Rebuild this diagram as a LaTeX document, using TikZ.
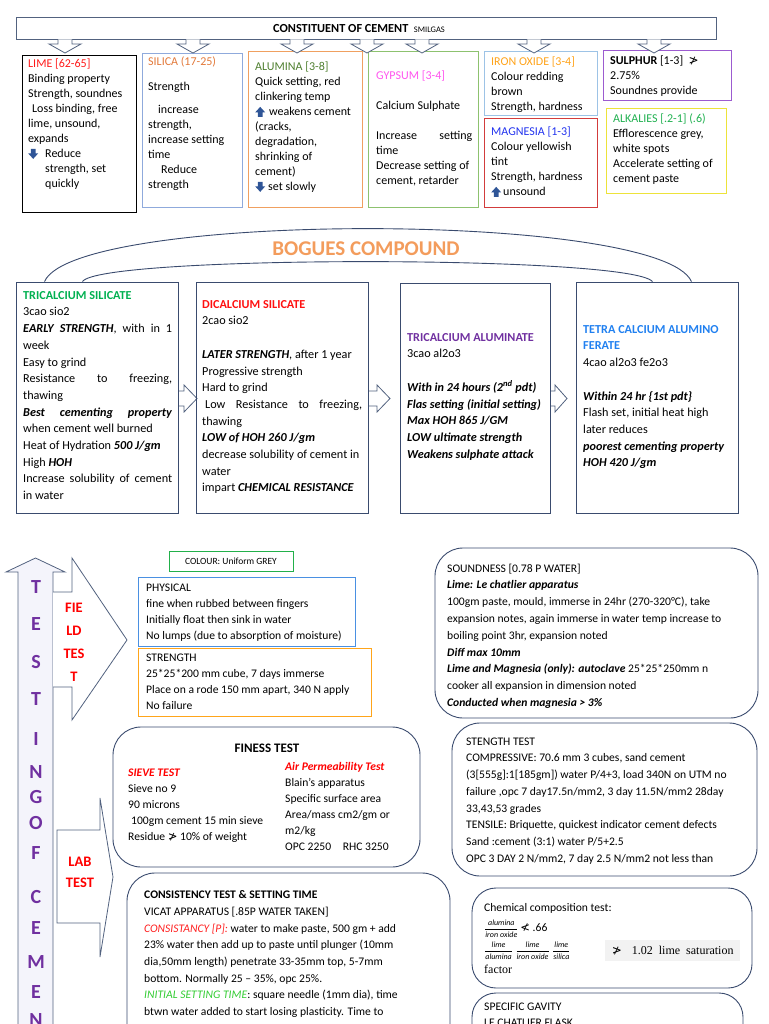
\documentclass[tikz,border=0pt]{standalone}
\usepackage{fontspec}
\setmainfont{Carlito}
\newfontfamily\symfont{DejaVu Sans}
\newfontfamily\cambfont{Liberation Serif}
\usetikzlibrary{fit,calc}
\definecolor{slate}{HTML}{52627F}
\definecolor{navyline}{HTML}{3A4B6E}
\definecolor{silicab}{HTML}{8FAADC}
\definecolor{aluminab}{HTML}{F0A060}
\definecolor{gypsumb}{HTML}{8DC26F}
\definecolor{ironb}{HTML}{9DC3E6}
\definecolor{magb}{HTML}{D23C3C}
\definecolor{sulphb}{HTML}{9C5BD0}
\definecolor{alkb}{HTML}{EDE33A}
\definecolor{limec}{HTML}{FF1A1A}
\definecolor{silicac}{HTML}{E2793A}
\definecolor{aluminac}{HTML}{4F7F30}
\definecolor{gypsumc}{HTML}{FF55EE}
\definecolor{ironc}{HTML}{FFA31A}
\definecolor{magc}{HTML}{2233EE}
\definecolor{alkc}{HTML}{20B050}
\definecolor{tcsc}{HTML}{00B050}
\definecolor{dcsc}{HTML}{FF1010}
\definecolor{tcac}{HTML}{7030A0}
\definecolor{tcafc}{HTML}{2080F0}
\definecolor{bogue}{HTML}{F39C5C}
\definecolor{tpurple}{HTML}{7030A0}
\definecolor{lavend}{HTML}{F4F4FB}
\definecolor{colourb}{HTML}{22B04A}
\definecolor{physb}{HTML}{4A90E2}
\definecolor{strb}{HTML}{FFA51A}
\definecolor{initc}{HTML}{33CC33}
\definecolor{consred}{HTML}{FF2020}
\definecolor{lsfgrey}{HTML}{F2F2F2}
\definecolor{arrblue}{HTML}{2F5597}
\newcommand\dnarr{\tikz[baseline=-4pt,x=1pt,y=1pt]\fill[arrblue] (-2.4,5) -- (2.4,5) -- (2.4,0.5) -- (5,0.5) -- (0,-5) -- (-5,0.5) -- (-2.4,0.5) -- cycle;}
\newcommand\uparr{\tikz[baseline=-4pt,x=1pt,y=1pt]\fill[arrblue] (-2.4,-5) -- (2.4,-5) -- (2.4,-0.5) -- (5,-0.5) -- (0,5) -- (-5,-0.5) -- (-2.4,-0.5) -- cycle;}
\newcommand\ngt{{\symfont ≯}}
\newcommand\nlt{{\symfont ≮}}
\newcommand\bfit[1]{\textbf{\textit{#1}}}
\tikzset{
  frame/.style={draw,inner sep=0pt,line width=0.9pt},
  rframe/.style={frame,draw=navyline,rounded corners=28pt},
  txt/.style={anchor=north west,inner sep=0pt,align=left,font=\fontsize{12}{15}\selectfont},
  bogtxt/.style={txt,font=\fontsize{12.2}{16.7}\selectfont},
  tsttxt/.style={txt,font=\fontsize{11.6}{16.4}\selectfont},
  blockarr/.style={draw=slate,fill=white,line width=0.8pt,line join=miter},
  link/.style={draw=navyline,line width=0.9pt},
  testltr/.style={font=\fontsize{20}{20}\selectfont\bfseries,text=tpurple},
  armtxt/.style={font=\fontsize{14.5}{23}\selectfont\bfseries,text=red,align=center}
}
\begin{document}
\begin{tikzpicture}[x=1pt,y=-1pt]
  \useasboundingbox (0,0) rectangle (768,1024);
  \clip (0,0) rectangle (768,1024);

  % constituents
  \node[frame,draw=slate,fit={(16,17)(716,39)}] (cons) {};
  \node[anchor=west,inner sep=0pt,font=\fontsize{12.3}{13}\selectfont] (const) at (273,29)
    {\textbf{CONSTITUENT OF CEMENT}\ \ {\fontsize{8.5}{9}\selectfont SMILGAS}};

  \node[frame,draw=black,fit={(22,55)(136,212)}] (lime) {};
  \node[frame,draw=silicab,fit={(142,53)(242,207)}] (silica) {};
  \node[frame,draw=aluminab,fit={(248,51)(362,207)}] (alumina) {};
  \node[frame,draw=gypsumb,fit={(368,51)(478,207)}] (gypsum) {};
  \node[frame,draw=ironb,fit={(484,51)(597,115)}] (iron) {};
  \node[frame,draw=magb,fit={(484,118)(597,207)}] (magnesia) {};
  \node[frame,draw=sulphb,fit={(603,50)(731,100)}] (sulphur) {};
  \node[frame,draw=alkb,fit={(606,108)(726,193)}] (alkalies) {};

  \foreach \cx in {65,193,297,367,422,534,654}
    \draw[blockarr] (\cx-7,39.5) -- (\cx-7,44) -- (\cx-16,44) -- (\cx,53) -- (\cx+16,44) -- (\cx+7,44) -- (\cx+7,39.5);

  \node[txt] (limet) at (28,59) {\textcolor{limec}{LIME [62-65]}\\
    Binding property\\
    Strength, soundnes\\
    \hspace*{4pt}Loss binding, free\\
    lime, unsound,\\
    expands\\
    \makebox[17pt][l]{\dnarr}Reduce\\
    \hspace*{17pt}strength, set\\
    \hspace*{17pt}quickly};
  \node[txt] (silicat) at (148,57) {\textcolor{silicac}{SILICA (17-25)}\\[10pt]
    Strength\\[8pt]
    \hspace*{10pt}increase\\
    strength,\\
    increase setting\\
    time\\
    \hspace*{13pt}Reduce\\
    strength};
  \node[txt] (aluminat) at (255,62) {\textcolor{aluminac}{ALUMINA [3-8]}\\
    Quick setting, red\\
    clinkering temp\\
    \makebox[14pt][l]{\uparr}weakens cement\\
    (cracks,\\
    degradation,\\
    shrinking of\\
    cement)\\
    \makebox[13pt][l]{\dnarr}set slowly};
  \node[txt] (gypsumt) at (376,71) {\textcolor{gypsumc}{GYPSUM [3-4]}\\[15pt]
    Calcium Sulphate\\[15pt]
    \makebox[96pt][s]{Increase setting}\\
    time\\
    Decrease setting of\\
    cement, retarder};
  \node[txt] (iront) at (491,57) {\textcolor{ironc}{IRON OXIDE [3-4]}\\
    Colour redding\\
    brown\\
    Strength, hardness};
  \node[txt] (magnesiat) at (491,127) {\textcolor{magc}{MAGNESIA [1-3]}\\
    Colour yellowish\\
    tint\\
    Strength, hardness\\
    \makebox[12pt][l]{\uparr}unsound};
  \node[txt] (sulphurt) at (610,56) {\textbf{SULPHUR} [1-3]\ \ \ngt\\
    2.75\%\\
    Soundnes provide};
  \node[txt] (alkaliest) at (613,114) {\textcolor{alkc}{ALKALIES [.2-1] (.6)}\\
    Efflorescence grey,\\
    white spots\\
    Accelerate setting of\\
    cement paste};

  % bogues
  \node[font=\fontsize{21}{21}\selectfont\bfseries,text=bogue] (bogue) at (366,249) {BOGUES COMPOUND};
  \foreach \xa/\xm/\xb in {178/184/197,368/377/390,550/555/567}
    \draw[blockarr] (\xa,391) -- (\xm,391) -- (\xm,385) -- (\xb,398.5) -- (\xm,412) -- (\xm,406) -- (\xa,406);
  \node[frame,draw=navyline,fit={(16,282)(178,513)}] (tcs) {};
  \node[frame,draw=navyline,fit={(196,282)(368,513)}] (dcs) {};
  \node[frame,draw=navyline,fit={(400,283)(550,513)}] (tca) {};
  \node[frame,draw=navyline,fit={(576,282)(738,513)}] (tcaf) {};
  \draw[link] ([xshift=29pt]tcs.north west) .. controls (75,211) and (660,211) .. ([xshift=-47pt]tcaf.north east);
  \draw[link] ([xshift=67pt]tcs.north west) .. controls (100,255) and (630,255) .. ([xshift=-86pt]tcaf.north east);

  \node[bogtxt] (tcst) at (23,291) {\textcolor{tcsc}{\textbf{TRICALCIUM SILICATE}}\\
    3cao sio2\\
    \makebox[149pt][s]{\bfit{EARLY STRENGTH}, with in 1}\\
    week\\
    Easy to grind\\
    \makebox[149pt][s]{Resistance to freezing,}\\
    thawing\\
    \makebox[149pt][s]{\bfit{Best cementing property}}\\
    when cement well burned\\
    Heat of Hydration \bfit{500 J/gm}\\
    High \bfit{HOH}\\
    \makebox[149pt][s]{Increase solubility of cement}\\
    in water};
  \node[bogtxt] (dcst) at (202,300) {\textcolor{dcsc}{\textbf{DICALCIUM SILICATE}}\\
    2cao sio2\\[16.7pt]
    \bfit{LATER STRENGTH}, after 1 year\\
    Progressive strength\\
    Hard to grind\\
    \hspace*{3pt}\makebox[157pt][s]{Low Resistance to freezing,}\\
    thawing\\
    \bfit{LOW of HOH 260 J/gm}\\
    decrease solubility of cement in\\
    water\\
    impart \bfit{CHEMICAL RESISTANCE}};
  \node[bogtxt] (tcat) at (407,333) {\textcolor{tcac}{\textbf{TRICALCIUM ALUMINATE}}\\
    3cao al2o3\\[16.7pt]
    \bfit{With in 24 hours (2\textsuperscript{nd} pdt)}\\
    \bfit{Flas setting (initial setting)}\\
    \bfit{Max HOH 865 J/GM}\\
    \bfit{LOW ultimate strength}\\
    \bfit{Weakens sulphate attack}};
  \node[bogtxt] (tcaft) at (583,325) {\textcolor{tcafc}{\textbf{TETRA CALCIUM ALUMINO}}\\
    \textcolor{tcafc}{\textbf{FERATE}}\\
    4cao al2o3 fe2o3\\[16.7pt]
    \bfit{Within 24 hr \{1st pdt\}}\\
    Flash set, initial heat high\\
    later reduces\\
    \bfit{poorest cementing property}\\
    \bfit{HOH 420 J/gm}};

  % testing
  \draw[blockarr,fill=lavend] (18,1040) -- (18,572) -- (6,572) -- (35.5,558) -- (65,572) -- (53,572) -- (53,1040);
  \draw[blockarr] (53,592) -- (72,592) -- (72,558) -- (127,640) -- (72,720) -- (72,687) -- (53,687);
  \draw[blockarr] (57,830) -- (100,830) -- (100,798) -- (113,877) -- (100,957) -- (100,923) -- (57,923) -- cycle;
  \foreach \l/\y [count=\i] in {T/587,E/624,S/662,T/699,I/739,N/772,G/797,O/823,F/853,C/897,E/928,M/962,E/992,N/1020}
    \node[testltr] (ltr\i) at (36,\y) {\l};
  \node[armtxt] (field) at (74,642) {FIE\\LD\\TES\\T};
  \node[armtxt,font=\fontsize{14.5}{21}\selectfont\bfseries] (lab) at (80,872.5) {LAB\\TEST};

  \node[frame,draw=colourb,minimum width=124pt,minimum height=20pt,font=\fontsize{9.5}{10}\selectfont] (colour) at (231,561) {COLOUR: Uniform GREY};
  \node[frame,draw=physb,fit={(138,577)(355,646)}] (phys) {};
  \node[frame,draw=strb,fit={(138,648)(371,716)}] (stren) {};
  \node[tsttxt,font=\fontsize{11.6}{16}\selectfont] (physt) at (146,583.5) {PHYSICAL\\
    fine when rubbed between fingers\\
    Initially float then sink in water\\
    No lumps (due to absorption of moisture)};
  \node[tsttxt,font=\fontsize{11.6}{16}\selectfont] (strent) at (146,653.5) {STRENGTH\\
    25*25*200 mm cube, 7 days immerse\\
    Place on a rode 150 mm apart, 340 N apply\\
    No failure};

  \node[rframe,fit={(435,548)(758,718)}] (sound) {};
  \node[tsttxt,font=\fontsize{11.6}{16.8}\selectfont] (soundt) at (447,563.5) {SOUNDNESS [0.78 P WATER]\\
    \bfit{Lime: Le chatlier apparatus}\\
    100gm paste, mould, immerse in 24hr (270-320°C), take\\
    expansion notes, again immerse in water temp increase to\\
    boiling point 3hr, expansion noted\\
    \bfit{Diff max 10mm}\\
    \bfit{Lime and Magnesia (only): autoclave} 25*25*250mm n\\
    cooker all expansion in dimension noted\\
    \bfit{Conducted when magnesia > 3\%}};

  \node[rframe,fit={(113,727)(420,867)}] (finess) {};
  \node[font=\fontsize{13}{13}\selectfont\bfseries] (finesst) at (267,748) {FINESS TEST};
  \node[tsttxt,font=\fontsize{11.6}{16}\selectfont] (sieve) at (128,768.5) {\textcolor{red}{\bfit{SIEVE TEST}}\\
    Sieve no 9\\
    90 microns\\
    \hspace*{3pt}100gm cement 15 min sieve\\
    Residue \ngt\ 10\% of weight};
  \node[tsttxt,font=\fontsize{11.6}{16}\selectfont] (airp) at (285,762.5) {\textcolor{red}{\bfit{Air Permeability Test}}\\
    Blain’s apparatus\\
    Specific surface area\\
    Area/mass cm2/gm or\\
    m2/kg\\
    OPC 2250\quad RHC 3250};

  \node[rframe,fit={(452,723)(757,876)}] (sttest) {};
  \node[tsttxt,font=\fontsize{11.6}{16.7}\selectfont] (sttestt) at (466,737.5) {STENGTH TEST\\
    COMPRESSIVE: 70.6 mm 3 cubes, sand cement\\
    (3[555g]:1[185gm]) water P/4+3, load 340N on UTM no\\
    failure ,opc 7 day17.5n/mm2, 3 day 11.5N/mm2 28day\\
    33,43,53 grades\\
    TENSILE: Briquette, quickest indicator cement defects\\
    Sand :cement (3:1) water P/5+2.5\\
    OPC 3 DAY 2 N/mm2, 7 day 2.5 N/mm2 not less than};

  \node[rframe,fit={(127,873)(450,1080)}] (consis) {};
  \node[tsttxt,font=\fontsize{11.6}{16.7}\selectfont] (consist) at (144,890.5) {\textbf{CONSISTENCY TEST \& SETTING TIME}\\
    VICAT APPARATUS [.85P WATER TAKEN]\\
    \textcolor{consred}{\textit{CONSISTANCY [P]:}} water to make paste, 500 gm + add\\
    23\% water then add up to paste until plunger (10mm\\
    dia,50mm length) penetrate 33-35mm top, 5-7mm\\
    bottom. Normally 25 – 35\%, opc 25\%.\\
    \textcolor{initc}{\textit{INITIAL SETTING TIME}}: square needle (1mm dia), time\\
    btwn water added to start losing plasticity. Time to};

  \node[rframe,rounded corners=24pt,fit={(472,888)(752,988)}] (chem) {};
  \node[tsttxt] (chemt) at (484,903) {Chemical composition test:};
  \node[anchor=west,inner sep=0pt] (frac1) at (484,929)
    {\fontsize{8}{8}\selectfont$\displaystyle\frac{\mathit{alumina}}{\mathit{iron\ oxide}}$\ {\fontsize{11.6}{12}\selectfont\nlt\ .66}};
  \node[anchor=west,inner sep=0pt] (frac2) at (484,951)
    {\fontsize{8}{8}\selectfont$\displaystyle\frac{\mathit{lime}}{\mathit{alumina}}\;\frac{\mathit{lime}}{\mathit{iron\ oxide}}\;\frac{\mathit{lime}}{\mathit{silica}}$};
  \node[fill=lsfgrey,anchor=west,minimum width=135pt,minimum height=21pt,inner sep=2pt,font=\cambfont\fontsize{12}{12}\selectfont] (lsf) at (605,950.5)
    {\ngt\hspace{10pt}1.02\ \ lime\ \ saturation};
  \node[anchor=west,inner sep=0pt,font=\cambfont\fontsize{12}{12}\selectfont] (fact) at (484,969) {factor};

  \node[rframe,rounded corners=24pt,fit={(472,993)(743,1080)}] (sg) {};
  \node[tsttxt] (sgt) at (484,1002.5) {SPECIFIC GAVITY\\LE CHATLIER FLASK};
\end{tikzpicture}
\end{document}
